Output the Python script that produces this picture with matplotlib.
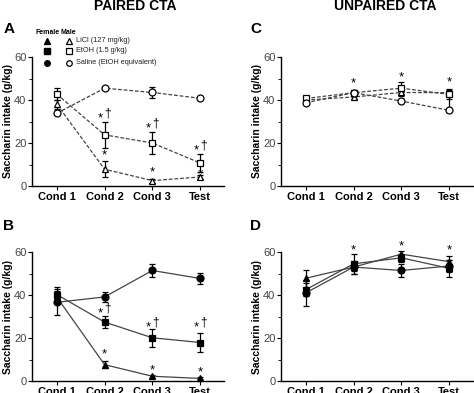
import numpy as np
from matplotlib import pyplot as plt
from matplotlib.ticker import MultipleLocator

plt.rcParams['font.family'] = ['Liberation Sans', 'DejaVu Sans']

W, H = 474, 393

conds = ["Cond 1", "Cond 2", "Cond 3", "Test"]
groups = ["LiCl (127 mg/kg)", "EtOH (1.5 g/kg)", "Saline (EtOH equivalent)"]
markers = ["^", "s", "o"]

# panel A: paired, male (open markers, dashed)
a_licl = [38, 7.8, 2.5, 4.2]
a_licl_err = [2, 3.8, 0.9, 0.9]
a_etoh = [42.7, 23.8, 20.0, 10.7]
a_etoh_err = [2.8, 6.0, 5.2, 4.4]
a_sal = [33.8, 45.5, 43.5, 40.8]
a_sal_err = [1.0, 0.6, 2.5, 0.8]

# panel B: paired, female (filled markers, solid)
b_licl = [39, 7.6, 2.2, 1.2]
b_licl_err = [3, 1.5, 0.8, 0.5]
b_etoh = [40.2, 27.4, 20.1, 17.9]
b_etoh_err = [3.5, 2.8, 4.3, 4.3]
b_sal = [36.6, 39.1, 51.4, 47.7]
b_sal_err = [6.0, 2.3, 3.0, 2.5]

# panel C: unpaired, male
c_licl = [40, 41.4, 43.5, 43.4]
c_licl_err = [1, 1, 1.5, 1.5]
c_etoh = [40.7, 43.4, 45.5, 42.6]
c_etoh_err = [1, 1.2, 2.7, 2.2]
c_sal = [38.7, 43.4, 39.5, 35.2]
c_sal_err_lo = [0.5, 0.8, 0.8, 0]
c_sal_err_hi = [0.5, 0.8, 0.8, 7]

# panel D: unpaired, female
d_licl = [47.8, 53, 59, 55.5]
d_licl_err = [4, 2, 1.5, 2.5]
d_etoh = [42.5, 54.5, 57.3, 52.4]
d_etoh_err = [3, 4.5, 2, 4]
d_sal = [41, 53, 51.4, 53.5]
d_sal_err = [6, 3, 3, 3]

# significance marks (x index, y, dagger?)
a_marks = [(1, 33.5, True), (1, 15.9, False), (2, 29, True), (2, 8, False), (3, 18.7, True), (3, 7.3, False)]
b_marks = [(1, 33.3, True), (1, 14, False), (2, 27.0, True), (2, 6.5, False), (3, 26.8, True), (3, 5.8, False)]
c_marks = [(1, 49.3, False), (2, 52.1, False), (3, 49.8, False)]
d_marks = [(1, 62.5, False), (2, 64.2, False), (3, 62.5, False)]


def rect(left, right, top, bottom):
    return [left / W, 1 - bottom / H, (right - left) / W, (bottom - top) / H]


def setup(ax):
    ax.set_xlim(-0.52, 3.5)
    ax.set_ylim(0, 60)
    ax.spines['top'].set_visible(False)
    ax.spines['right'].set_visible(False)
    ax.spines['left'].set_linewidth(1.0)
    ax.spines['bottom'].set_linewidth(1.0)
    ax.set_xticks(range(4))
    ax.set_xticklabels(conds, fontsize=8, fontweight='bold')
    ax.set_yticks([0, 20, 40, 60])
    ax.yaxis.set_minor_locator(MultipleLocator(10))
    ax.tick_params(axis='y', labelsize=8, length=3, pad=1, colors='black', labelcolor='#444')
    ax.tick_params(axis='y', which='minor', length=2)
    ax.tick_params(axis='x', length=3, pad=1.5)
    ax.set_ylabel("Saccharin intake (g/kg)", fontsize=7.5, fontweight='bold', labelpad=1)


def draw(ax, series, errs, filled, ls):
    x = np.arange(4)
    for y, e, m in zip(series, errs, markers):
        ax.errorbar(x, y, yerr=e, marker=m, ms=4.5 if m != 'o' else 5,
                    mfc='black' if filled else 'white', mec='black', mew=0.9,
                    color='#444', ls=ls, lw=0.9, ecolor='black', elinewidth=0.9,
                    capsize=2.2, capthick=0.9, clip_on=False, zorder=3,
                    dashes=(3, 1.5) if ls == '--' else (None, None))


def marks(ax, ms):
    # the asterisk glyph sits high in its box, so shift it down a little
    for i, y, dag in ms:
        if dag:
            ax.text(i - 0.09, y - 2.0, "*", ha='center', va='center', fontsize=9.5, clip_on=False)
            ax.text(i + 0.07, y + 0.3, "†", ha='center', va='center', fontsize=8.5, clip_on=False)
        else:
            ax.text(i, y - 1.8, "*", ha='center', va='center', fontsize=9.5, clip_on=False)


fig = plt.figure(figsize=(W / 100, H / 100), dpi=100)

axA = fig.add_axes(rect(32, 224, 57, 186))
axB = fig.add_axes(rect(32, 224, 252, 381))
axC = fig.add_axes(rect(281, 473, 57, 186))
axD = fig.add_axes(rect(281, 473, 252, 381))

for ax in (axA, axB, axC, axD):
    setup(ax)

draw(axA, [a_licl, a_etoh, a_sal], [a_licl_err, a_etoh_err, a_sal_err], False, '--')
draw(axB, [b_licl, b_etoh, b_sal], [b_licl_err, b_etoh_err, b_sal_err], True, '-')
draw(axC, [c_licl, c_etoh, c_sal], [c_licl_err, c_etoh_err, [c_sal_err_lo, c_sal_err_hi]], False, '--')
draw(axD, [d_licl, d_etoh, d_sal], [d_licl_err, d_etoh_err, d_sal_err], True, '-')

marks(axA, a_marks)
marks(axB, b_marks)
marks(axC, c_marks)
marks(axD, d_marks)

# titles and panel letters
fig.text(135 / W, 1 - 6 / H, "PAIRED CTA", ha='center', va='center', fontsize=10, fontweight='bold')
fig.text(385 / W, 1 - 6 / H, "UNPAIRED CTA", ha='center', va='center', fontsize=10, fontweight='bold')
for lx, ly, lt in [(9, 29, "A"), (9, 226, "B"), (256, 29, "C"), (256, 226, "D")]:
    fig.text(lx / W, 1 - ly / H, lt, ha='center', va='center', fontsize=11, fontweight='bold')

# legend
fig.text(36 / W, 1 - 32 / H, "Female", ha='left', va='center', fontsize=5, fontweight='bold')
fig.text(60 / W, 1 - 32 / H, "Male", ha='left', va='center', fontsize=5, fontweight='bold')
for g, m, yy in zip(groups, markers, [41, 51, 63]):
    fig.lines.append(plt.Line2D([47 / W], [1 - yy / H], marker=m, ms=4, mfc='black', mec='black',
                                transform=fig.transFigure, figure=fig))
    fig.lines.append(plt.Line2D([69 / W], [1 - yy / H], marker=m, ms=4, mfc='white', mec='black', mew=0.9,
                                transform=fig.transFigure, figure=fig))
    fig.text(76 / W, 1 - yy / H, g, ha='left', va='center', fontsize=5.3, color='#222')

fig.savefig("out.png", dpi=100)
